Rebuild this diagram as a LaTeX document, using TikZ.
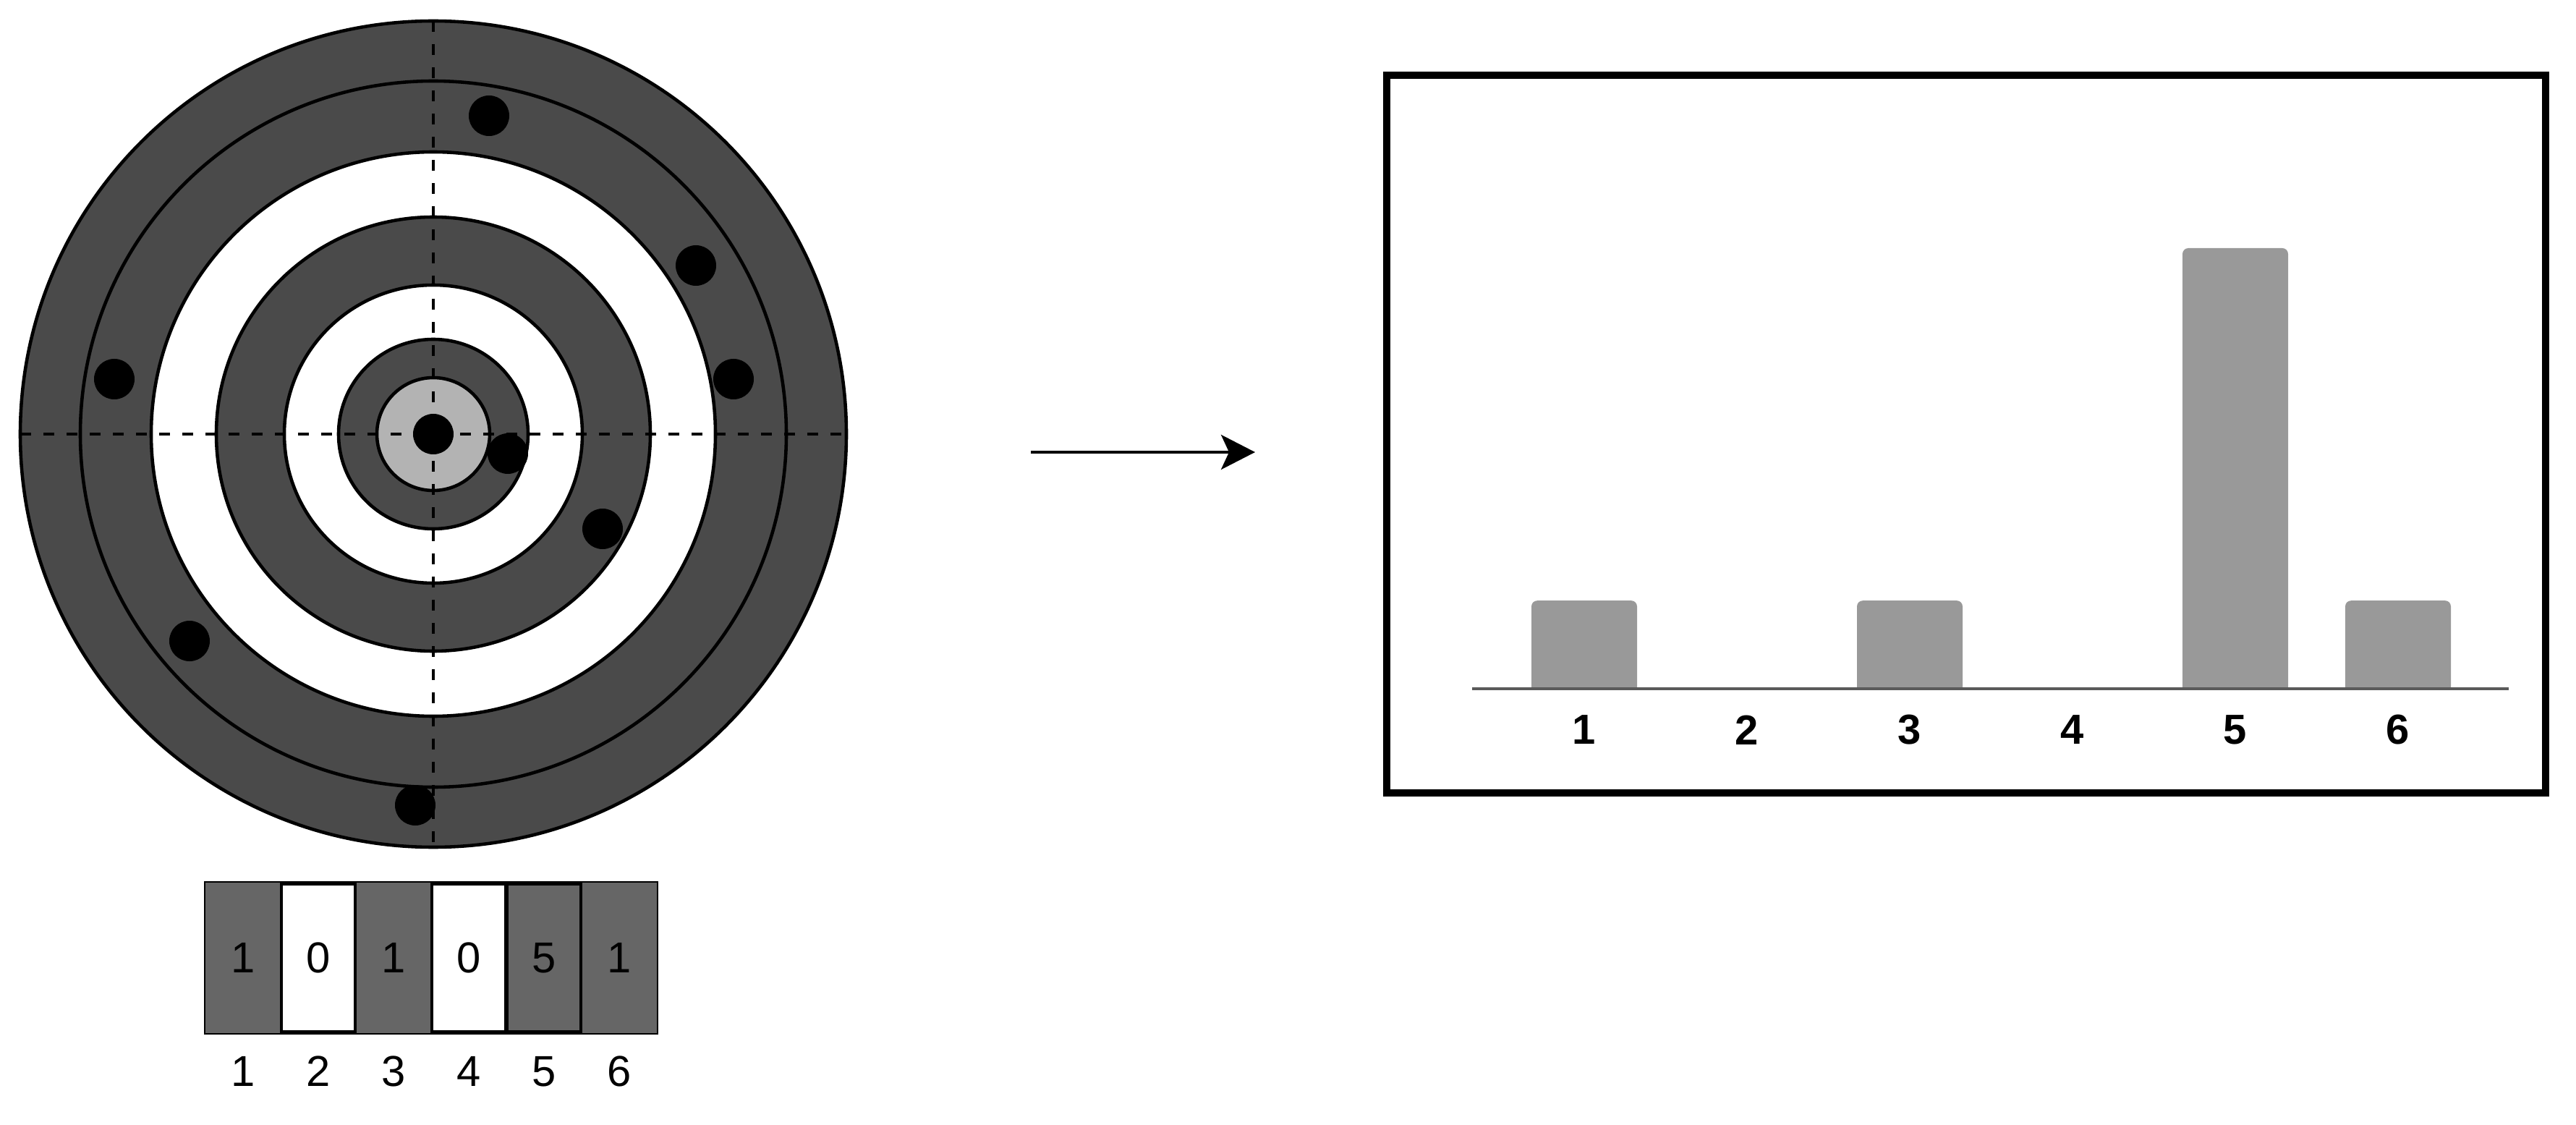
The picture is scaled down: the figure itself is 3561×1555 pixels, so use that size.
\documentclass[tikz,border=0pt]{standalone}
\usepackage{fontspec}
\setmainfont{Liberation Sans}
\usetikzlibrary{arrows.meta, calc}
\definecolor{oscuro}{HTML}{4A4A4A}
\definecolor{grisclaro}{HTML}{B3B3B3}
\definecolor{celdagris}{HTML}{666666}
\definecolor{barragris}{HTML}{999999}
\definecolor{ejegris}{HTML}{5A5A5A}
\tikzset{
	>={Stealth[length=4.7mm, width=4.8mm, inset=1.1mm]}, % Punta de la flecha
	anillo/.style={draw=black, line width=1.3pt}, % Circulos de la diana
	mira/.style={dash pattern=on 1.5mm off 1.7mm, line width=1.3pt}, % Lineas punteadas
	disparo/.style={fill=black}, % Impactos
	celda/.style={minimum width=10.4mm, minimum height=20.8mm, inner sep=0pt,
		font=\fontsize{17}{20}\selectfont}, % Casillas del histograma
	marcocelda/.style={draw=black, line width=1.2pt}, % Borde grueso de casilla
	etiqueta/.style={inner sep=0pt, font=\fontsize{17}{20}\selectfont}, % Numeros debajo
	eje/.style={inner sep=0pt, font=\fontsize{16.5}{20}\selectfont\bfseries}, % Numeros del eje
	barra/.style={fill=barragris}, % Barras
	marco/.style={draw=black, line width=3pt} % Marco del grafico
}

\begin{document}
\begin{tikzpicture}[x=0.1mm, y=-0.1mm]
	\useasboundingbox (0,0) rectangle (3561,1555);
	\coordinate (centro) at (599,600);
	\foreach \r/\col in {571/oscuro,488/oscuro,390/white,300/oscuro,206/white,131/oscuro,78/grisclaro}
		\draw[anillo, fill=\col] (centro) circle[radius=\r];
	\draw[mira] ([xshift=-57.1mm]centro) -- ([xshift=57.1mm]centro);
	\draw[mira] ([yshift=57.1mm]centro) -- ([yshift=-57.1mm]centro);
	\fill[disparo] (centro) circle[radius=28];
	\foreach \p in {(676,160),(962,367),(1014,524),(158,524),(833,731),(702,627),(262,886),(574,1113)}
		\fill[disparo] \p circle[radius=28];

	\foreach \i/\v/\col in {1/1/celdagris,2/0/white,3/1/celdagris,4/0/white,5/5/celdagris,6/1/celdagris}{
		\node[celda, fill=\col] (c\i) at ({284+104*(\i-0.5)},1324) {\v};
		\node[etiqueta] (e\i) at ({284+104*(\i-0.5)},1481) {\i};
	}
	\draw[line width=0.6pt] (c1.north west) rectangle (c6.south east);
	\foreach \i in {2,4,5}
		\draw[marcocelda] ($(c\i.north west)+(2,3)$) rectangle ($(c\i.south east)+(-2,-3)$);

	\coordinate (inicio) at (1425,625);
	\coordinate (fin) at (1735,625);
	\draw[->, line width=1.1pt] (inicio) -- (fin);

	\draw[marco] (1917,104) rectangle (3519,1096);
	\foreach \i/\h in {1/1,3/1,5/5,6/1}
		\fill[barra] ({2190+225*(\i-1)-73},952) [rounded corners=0.8mm]
			-- ({2190+225*(\i-1)-73},{952-121.8*\h}) -- ({2190+225*(\i-1)+73},{952-121.8*\h})
			[sharp corners] -- ({2190+225*(\i-1)+73},952) -- cycle;
	\coordinate (ejeizq) at (2035,952);
	\coordinate (ejeder) at (3468,952);
	\draw[ejegris, line width=0.9pt] (ejeizq) -- (ejeder);
	\foreach \i in {1,...,6}
		\node[eje] (x\i) at ({2190+225*(\i-1)},1009) {\i};
\end{tikzpicture}
\end{document}
